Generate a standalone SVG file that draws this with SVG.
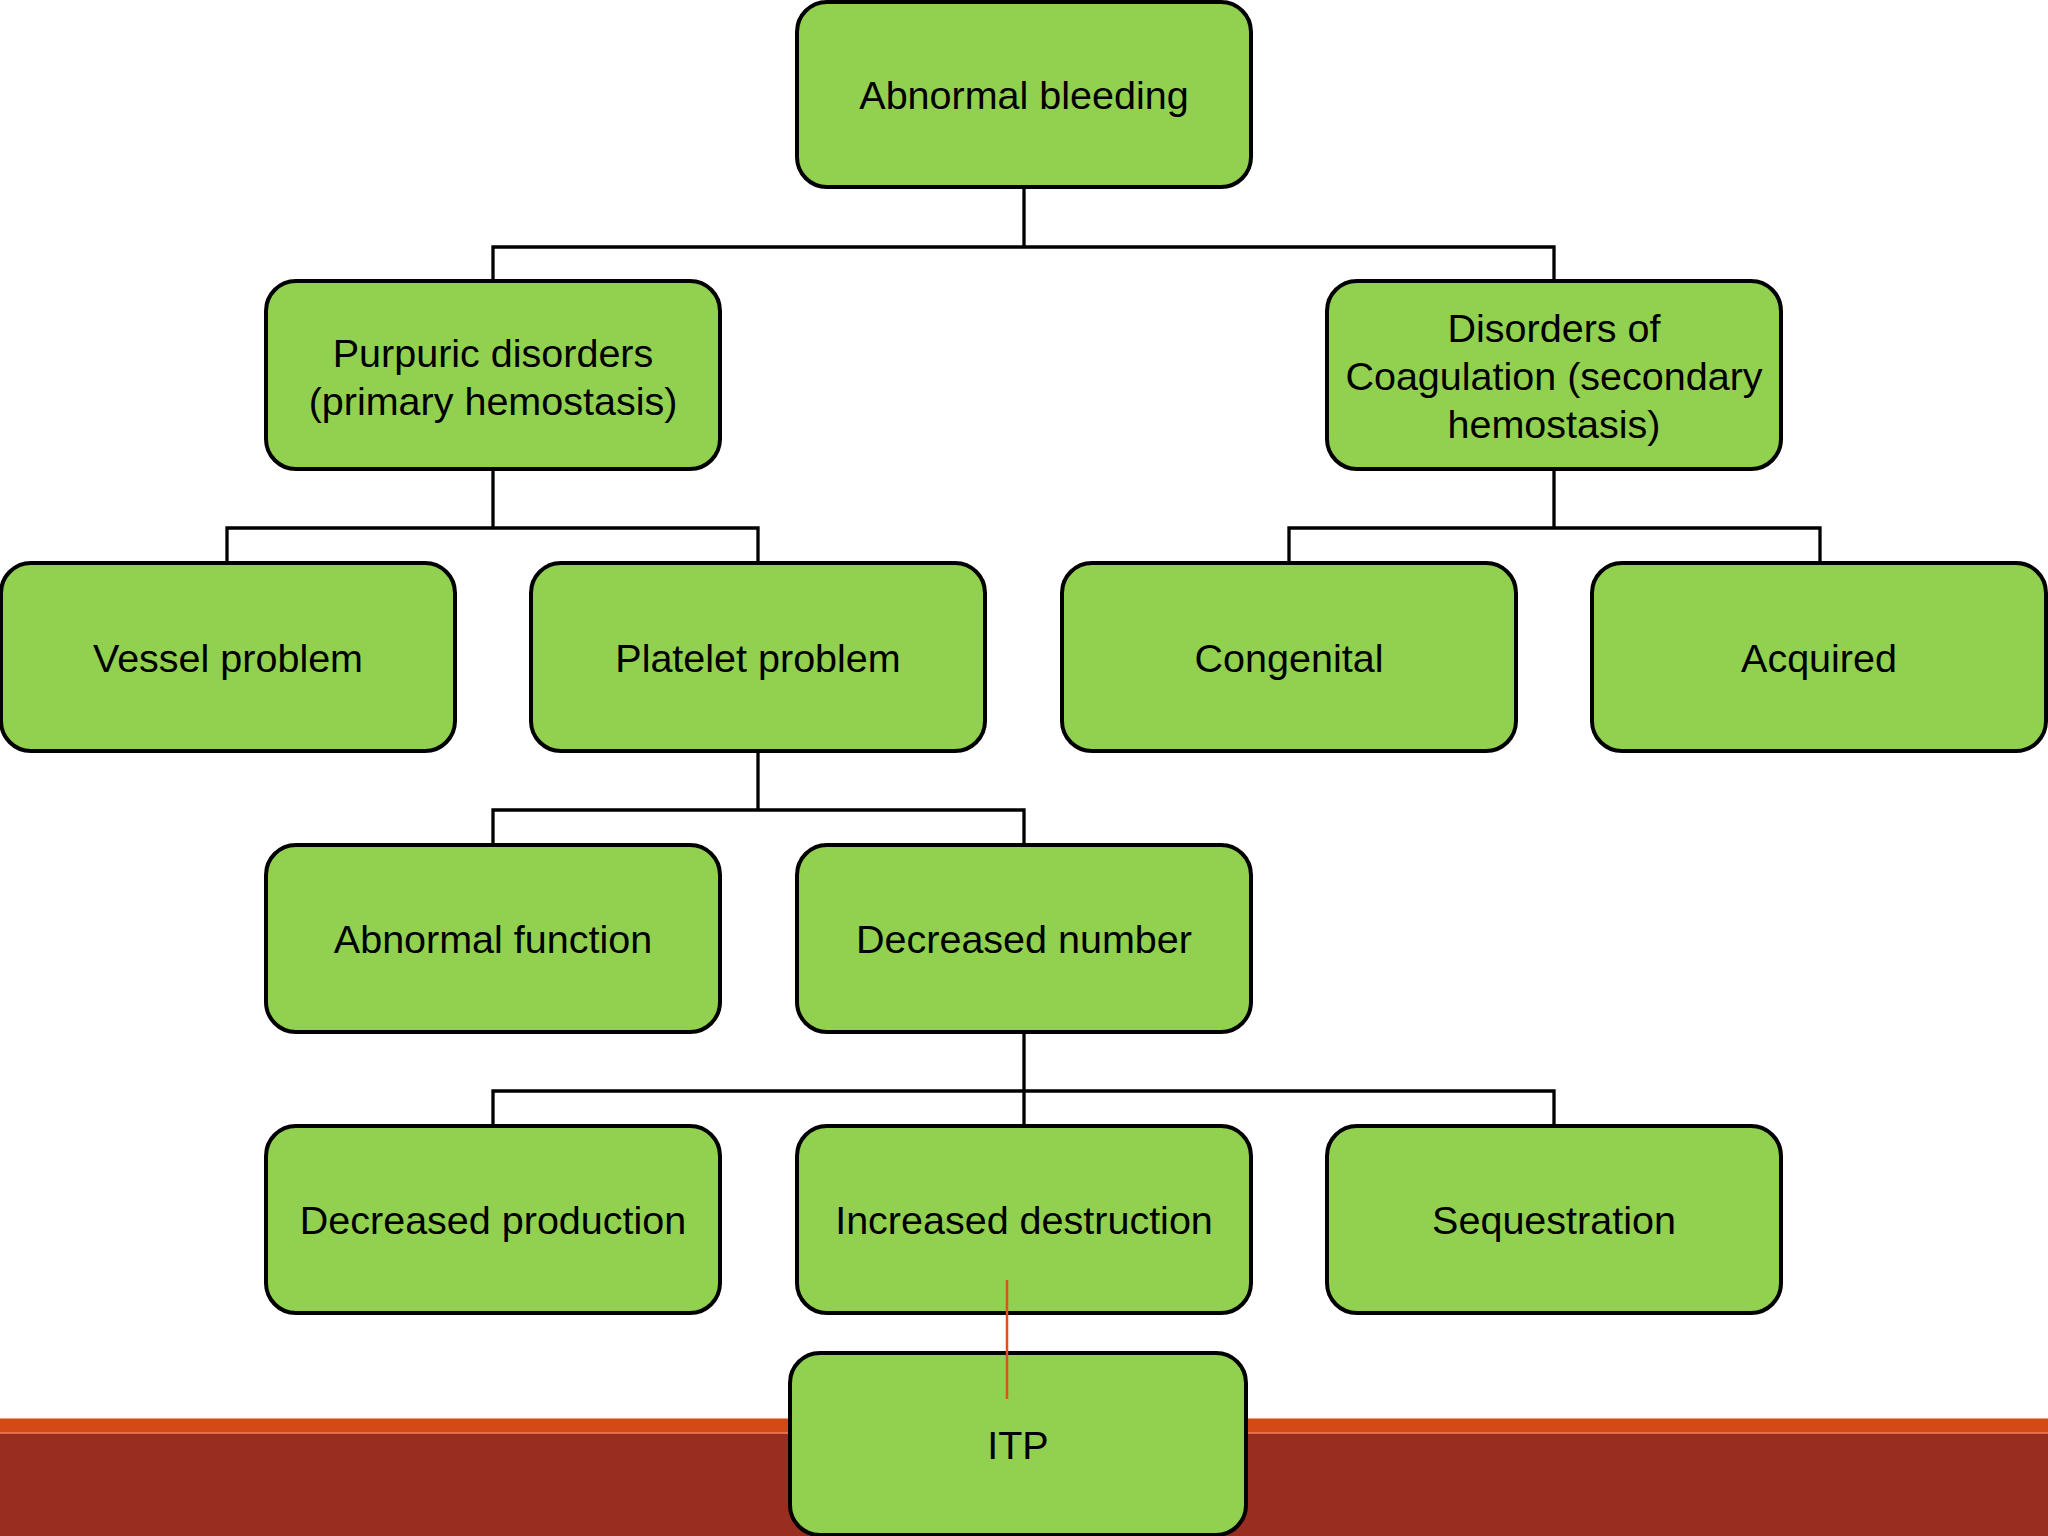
<svg xmlns="http://www.w3.org/2000/svg" width="2048" height="1536" viewBox="0 0 2048 1536">
<style>
.box{fill:#92D050;stroke:#000;stroke-width:4}
.lbl{font-family:"Liberation Sans",Arial,sans-serif;font-size:39.5px;fill:#000;text-anchor:middle}
.conn{fill:none;stroke:#000;stroke-width:3.3}
</style>
<rect x="0" y="0" width="2048" height="1536" fill="#fff"/>
<g id="footer">
<rect x="0" y="1418" width="2048" height="15" fill="#D44A15"/>
<line x1="0" y1="1418.5" x2="2048" y2="1418.5" stroke="#F2A080" stroke-width="1"/>
<rect x="0" y="1433" width="2048" height="103" fill="#992D20"/>
<line x1="0" y1="1433" x2="2048" y2="1433" stroke="#F08060" stroke-width="1.5"/>
</g>
<g id="n-abnormal-bleeding"><rect class="box" x="797" y="2" width="454" height="185" rx="30"/><text class="lbl" x="1024" y="109">Abnormal bleeding</text></g>
<g id="n-purpuric"><rect class="box" x="266" y="281" width="454" height="188" rx="30"/><text class="lbl" x="493" y="367">Purpuric disorders</text><text class="lbl" x="493" y="415">(primary hemostasis)</text></g>
<g id="n-coagulation"><rect class="box" x="1327" y="281" width="454" height="188" rx="30"/><text class="lbl" x="1554" y="342">Disorders of</text><text class="lbl" x="1554" y="390">Coagulation (secondary</text><text class="lbl" x="1554" y="438">hemostasis)</text></g>
<g id="n-vessel"><rect class="box" x="1" y="563" width="454" height="188" rx="30"/><text class="lbl" x="228" y="672">Vessel problem</text></g>
<g id="n-platelet"><rect class="box" x="531" y="563" width="454" height="188" rx="30"/><text class="lbl" x="758" y="672">Platelet problem</text></g>
<g id="n-congenital"><rect class="box" x="1062" y="563" width="454" height="188" rx="30"/><text class="lbl" x="1289" y="672">Congenital</text></g>
<g id="n-acquired"><rect class="box" x="1592" y="563" width="454" height="188" rx="30"/><text class="lbl" x="1819" y="672">Acquired</text></g>
<g id="n-abnormal-function"><rect class="box" x="266" y="845" width="454" height="187" rx="30"/><text class="lbl" x="493" y="953">Abnormal function</text></g>
<g id="n-decreased-number"><rect class="box" x="797" y="845" width="454" height="187" rx="30"/><text class="lbl" x="1024" y="953">Decreased number</text></g>
<g id="n-decreased-production"><rect class="box" x="266" y="1126" width="454" height="187" rx="30"/><text class="lbl" x="493" y="1234">Decreased production</text></g>
<g id="n-increased-destruction"><rect class="box" x="797" y="1126" width="454" height="187" rx="30"/><text class="lbl" x="1024" y="1234">Increased destruction</text></g>
<g id="n-sequestration"><rect class="box" x="1327" y="1126" width="454" height="187" rx="30"/><text class="lbl" x="1554" y="1234">Sequestration</text></g>
<g id="n-itp"><rect class="box" x="790" y="1353" width="456" height="182" rx="30"/><text class="lbl" x="1018" y="1459">ITP</text></g>
<g id="connectors">
<path class="conn" d="M1024 187V247M493 281V247H1554V281"/>
<path class="conn" d="M493 469V528M227 563V528H758V563"/>
<path class="conn" d="M1554 469V528M1289 563V528H1820V563"/>
<path class="conn" d="M758 751V810M493 845V810H1024V845"/>
<path class="conn" d="M1024 1032V1091M493 1126V1091H1554V1126M1024 1091V1126"/>
<line x1="1007" y1="1280" x2="1007" y2="1399" stroke="#D9531E" stroke-width="2.5"/>
</g>
</svg>
